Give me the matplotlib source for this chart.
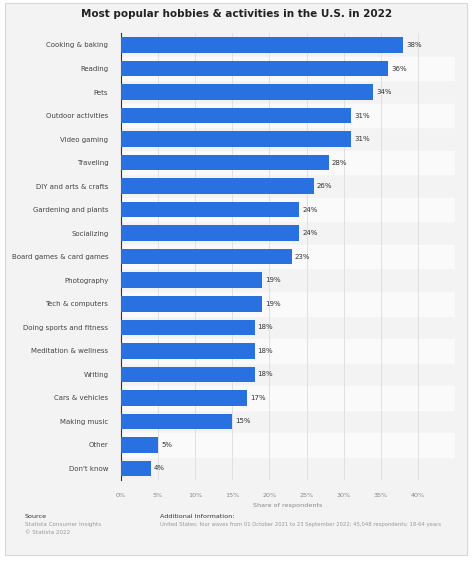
import matplotlib.pyplot as plt
import numpy as np

categories = ["Cooking & baking","Reading","Pets","Outdoor activities","Video gaming","Traveling",
 "DIY and arts & crafts","Gardening and plants","Socializing","Board games & card games","Photography",
 "Tech & computers","Doing sports and fitness","Meditation & wellness","Writing","Cars & vehicles",
 "Making music","Other","Don't know"]
values = [38,36,34,31,31,28,26,24,24,23,19,19,18,18,18,17,15,5,4]
ticks = [0,5,10,15,20,25,30,35,40]

fig = plt.figure(figsize=(4.74,5.63), dpi=100)
fig.patch.set_facecolor('white')
card = plt.Rectangle((0.01,0.015),0.975,0.98, transform=fig.transFigure, facecolor='#f3f3f3', edgecolor='#d8d8d8', lw=0.8, zorder=-10)
fig.patches.append(card)
ax = fig.add_axes([0.255,0.147,0.705,0.794])
ax.set_facecolor('#f3f3f3')
n = len(categories)
y = np.arange(n)
for i in range(n):
    if i % 2 == 1:
        ax.axhspan(i-0.5, i+0.5, color='#fafafa', zorder=0)
ax.barh(y, values, height=0.66, color='#2970e0', zorder=3)
for yi, v in zip(y, values):
    ax.text(v+0.4, yi, f"{v}%", va='center', ha='left', fontsize=5, color='#333333', zorder=4)
ax.set_ylim(n-0.5, -0.5)
ax.set_xlim(0,45)
ax.set_yticks(y)
ax.set_yticklabels(categories, fontsize=5, color='#444444')
ax.set_xticks(ticks)
ax.set_xticklabels([f"{t}%" for t in ticks], fontsize=4.6, color='#888888')
ax.grid(axis='x', color='#dddddd', lw=0.6, zorder=1)
ax.tick_params(length=0, pad=9)
for s in ['top','right','bottom']:
    ax.spines[s].set_visible(False)
ax.spines['left'].set_color('#333333')
ax.spines['left'].set_linewidth(0.8)
ax.set_xlabel("Share of respondents", fontsize=4.6, color='#888888', labelpad=4)
fig.text(0.5,0.975,"Most popular hobbies & activities in the U.S. in 2022", ha='center', va='center', fontsize=7.5, fontweight='bold', color='#222222')
fig.text(0.052,0.080,"Source", fontsize=4.6, color='#333333')
fig.text(0.052,0.066,"Statista Consumer Insights", fontsize=4.1, color='#999999')
fig.text(0.052,0.052,"© Statista 2022", fontsize=4.1, color='#999999')
fig.text(0.337,0.080,"Additional Information:", fontsize=4.6, color='#333333')
fig.text(0.337,0.066,"United States; four waves from 01 October 2021 to 23 September 2022; 45,048 respondents; 18-64 years", fontsize=3.8, color='#999999')
fig.savefig('out.png', dpi=100)
